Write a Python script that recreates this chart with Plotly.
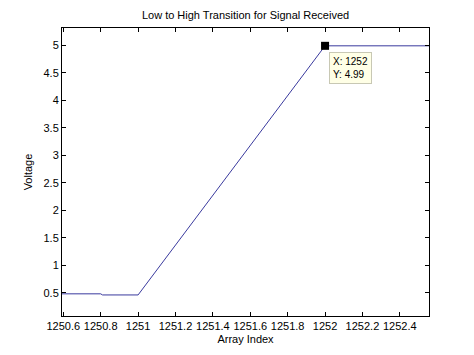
import plotly.graph_objects as go

# data
x_vals = [1250.59, 1250.8, 1250.81, 1251.0, 1252.0, 1252.56]
y_vals = [0.48, 0.48, 0.46, 0.46, 4.99, 4.99]
marker_x = [1252.0]
marker_y = [4.99]
x_ticks = [1250.6, 1250.8, 1251, 1251.2, 1251.4, 1251.6, 1251.8, 1252, 1252.2, 1252.4]
x_tick_text = ["1250.6", "1250.8", "1251", "1251.2", "1251.4", "1251.6", "1251.8", "1252", "1252.2", "1252.4"]
y_ticks = [0.5, 1, 1.5, 2, 2.5, 3, 3.5, 4, 4.5, 5]
y_tick_text = ["0.5", "1", "1.5", "2", "2.5", "3", "3.5", "4", "4.5", "5"]

fig = go.Figure()
fig.add_trace(go.Scatter(x=x_vals, y=y_vals, mode="lines",
                         line=dict(color="#3a3a9e", width=1), hoverinfo="skip", showlegend=False))
fig.add_trace(go.Scatter(x=marker_x, y=marker_y, mode="markers",
                         marker=dict(symbol="square", size=8, color="black"), showlegend=False))

fig.add_annotation(x=marker_x[0], y=marker_y[0], xref="x", yref="y",
                   text="X: 1252<br>Y: 4.99", showarrow=False,
                   xanchor="left", yanchor="top", xshift=4, yshift=-6,
                   align="left", font=dict(family="Liberation Sans, Arial", size=10, color="black"),
                   bgcolor="#ffffe6", bordercolor="#c8c8b4", borderwidth=1, borderpad=3)

axis_common = dict(showgrid=False, zeroline=False, ticks="inside", ticklen=4,
                   tickcolor="black", showline=True, linecolor="black", linewidth=1,
                   mirror="ticks", tickfont=dict(family="Liberation Sans, Arial", size=11, color="black"))

fig.update_layout(
    width=474, height=355,
    margin=dict(l=62, r=45, t=28, b=39),
    paper_bgcolor="white", plot_bgcolor="white",
    title=dict(text="Low to High Transition for Signal Received", x=0.518, xanchor="center",
               y=0.957, yanchor="middle",
               font=dict(family="Liberation Sans, Arial", size=11, color="black")),
    xaxis=dict(range=[1250.593, 1252.556], tickvals=x_ticks, ticktext=x_tick_text,
               title=dict(text="Array Index", font=dict(family="Liberation Sans, Arial", size=11, color="black"),
                          standoff=4),
               **axis_common),
    yaxis=dict(range=[0.077, 5.314], tickvals=y_ticks, ticktext=y_tick_text,
               title=dict(text="Voltage", font=dict(family="Liberation Sans, Arial", size=11, color="black"),
                          standoff=8),
               **axis_common),
)

fig.write_html("out.html")
